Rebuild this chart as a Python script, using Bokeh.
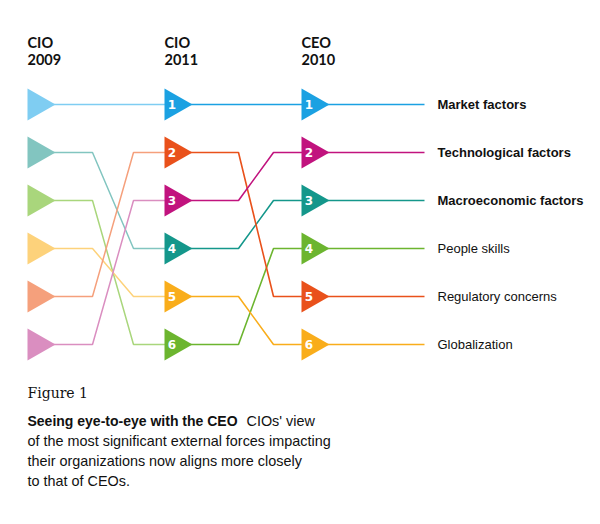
from bokeh.plotting import figure
from bokeh.models import Range1d
from bokeh.core.properties import value
from bokeh.embed import file_html
from bokeh.resources import INLINE

# ---- data ----
factors = ["Market factors", "Macroeconomic factors", "People skills",
           "Globalization", "Regulatory concerns", "Technological factors"]
rank_cio_2009 = [1, 2, 3, 4, 5, 6]
rank_cio_2011 = [1, 4, 6, 5, 2, 3]
rank_ceo_2010 = [1, 3, 4, 6, 5, 2]
light_colors = ["#7fcdf2", "#82c5c0", "#a9d67c", "#fdd27b", "#f5a07c", "#da8ec0"]
dark_colors = ["#1ba1e2", "#14978b", "#6cb52f", "#f9ad1b", "#e9511b", "#c1137e"]
column_titles = [("CIO", "2009"), ("CIO", "2011"), ("CEO", "2010")]
figure_title = "Figure 1"
caption_bold = "Seeing eye-to-eye with the CEO"
caption_lines = ["CIOs' view",
                 "of the most significant external forces impacting",
                 "their organizations now aligns more closely",
                 "to that of CEOs."]

# ---- layout (page pixels) ----
W, H, OFF = 590, 516, 0
ROW0, STEP = 104, 48


def ry(py):
    return 1 + (py - ROW0) / STEP


col_left = [27, 164, 301]
TRI_W = 28
TRI_H = 16 / STEP

p = figure(width=W, height=H, x_range=Range1d(OFF, OFF + W),
           y_range=Range1d(ry(OFF + H), ry(OFF)),
           output_backend="svg", toolbar_location=None, min_border=0)
p.axis.visible = False
p.grid.visible = False
p.outline_line_color = None
p.background_fill_color = "white"
p.border_fill_color = "white"

# connecting lines
xs1, ys1, xs2, ys2 = [], [], [], []
for r0, r1, r2 in zip(rank_cio_2009, rank_cio_2011, rank_ceo_2010):
    xs1.append([40, 92, 133, 175])
    ys1.append([r0, r0, r1, r1])
    xs2.append([175, 238, 273, 424])
    ys2.append([r1, r1, r2, r2])
p.multi_line(xs=xs1, ys=ys1, line_color=light_colors, line_width=1.5)
p.multi_line(xs=xs2, ys=ys2, line_color=dark_colors, line_width=1.6)

# triangles
for ci, (ranks, cols) in enumerate([(rank_cio_2009, light_colors),
                                    (rank_cio_2011, dark_colors),
                                    (rank_ceo_2010, dark_colors)]):
    x0 = col_left[ci]
    txs = [[x0, x0, x0 + TRI_W] for _ in ranks]
    tys = [[r - TRI_H, r + TRI_H, r] for r in ranks]
    p.patches(xs=txs, ys=tys, fill_color=cols, line_color=None)
    if ci > 0:
        p.text(x=[x0 + 7.5] * len(ranks), y=ranks, text=[str(r) for r in ranks],
               text_color="white", text_font=value("DejaVu Sans"),
               text_font_style="bold", text_font_size=value("12px"),
               text_align="center", text_baseline="middle")

# column titles
for x0, (a, b) in zip(col_left, column_titles):
    p.text(x=[x0, x0], y=[ry(42), ry(59)], text=[a, b], text_color="#111111",
           text_font=value("Lato"), text_font_style="bold",
           text_font_size=value("14.5px"), text_align="left",
           text_baseline="middle")

# factor labels
for f, rc in zip(factors, rank_ceo_2010):
    p.text(x=[437], y=[rc], text=[f], text_color="#111111",
           text_font=value("Liberation Sans"),
           text_font_style="bold" if rc <= 3 else "normal",
           text_font_size=value("13px"), text_align="left",
           text_baseline="middle")

# caption
p.text(x=[27], y=[ry(392)], text=[figure_title], text_color="#111111",
       text_font=value("DejaVu Serif"), text_font_size=value("14px"),
       text_align="left", text_baseline="middle")
p.text(x=[27], y=[ry(420)], text=[caption_bold], text_color="#111111",
       text_font=value("Liberation Sans"), text_font_style="bold",
       text_font_size=value("14px"), text_align="left", text_baseline="middle")
cap_x = [246, 27, 27, 27]
cap_y = [ry(420), ry(440), ry(460), ry(480)]
p.text(x=cap_x, y=cap_y, text=caption_lines, text_color="#111111",
       text_font=value("Liberation Sans"), text_font_size=value("14.4px"),
       text_align="left", text_baseline="middle")

open("out.html", "w").write(file_html(p, INLINE))
